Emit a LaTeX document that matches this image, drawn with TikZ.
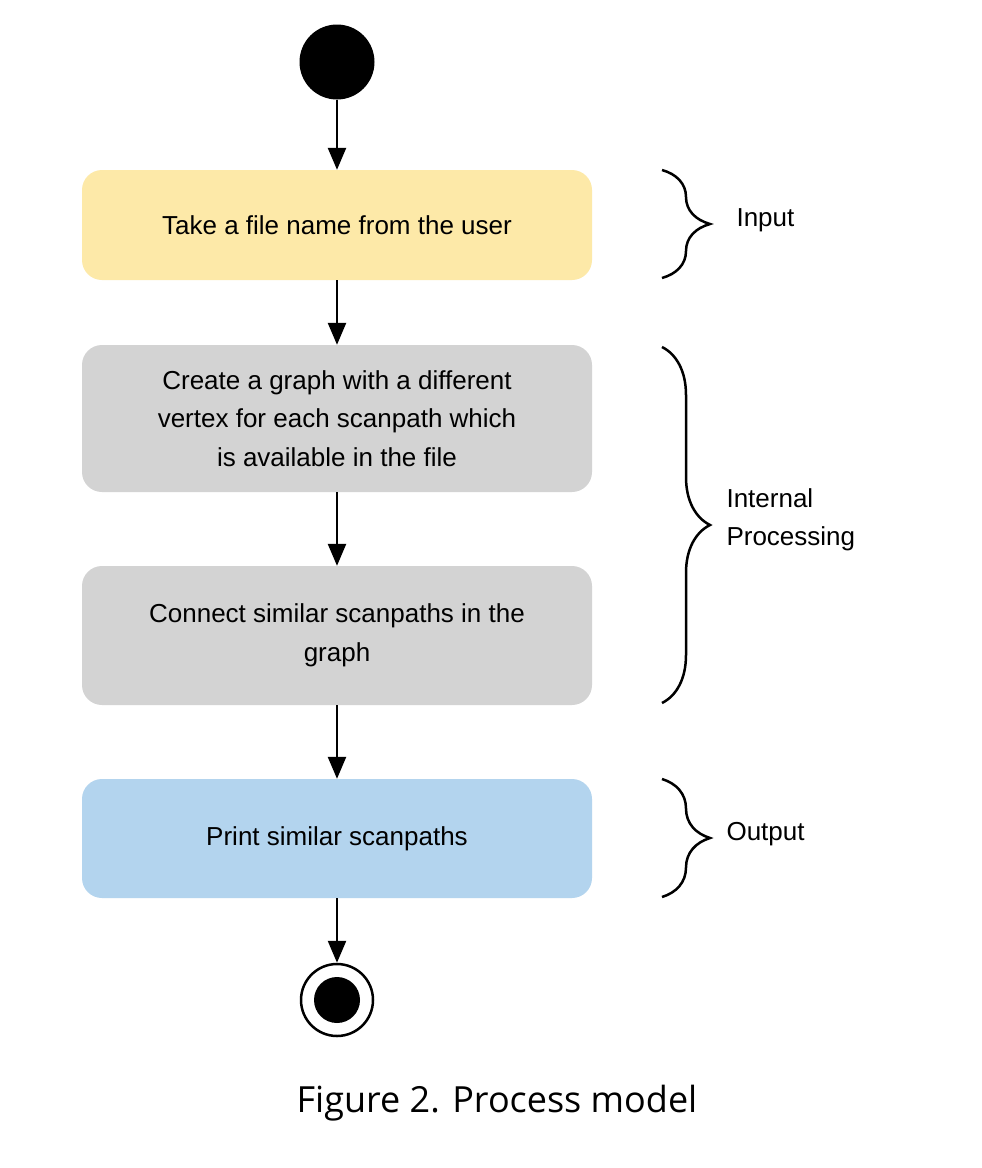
\documentclass[tikz,border=0pt]{standalone}
\usepackage{fontspec}
\setmainfont{Liberation Sans}
\newfontfamily\capfont{Open Sans}
\usetikzlibrary{arrows.meta,decorations.pathreplacing}
\begin{document}
\begin{tikzpicture}[x=1pt,y=-1pt,
  box/.style={rounded corners=20pt,minimum width=510pt,align=center,font=\fontsize{26}{38.5}\selectfont,inner sep=0pt},
  arr/.style={line width=2.5pt,-{Triangle[length=22pt,width=18pt]}},
  br/.style={line width=2.5pt,decorate,decoration={brace,amplitude=48pt,aspect=0.5}},
  lab/.style={anchor=west,align=left,font=\fontsize{26}{38.5}\selectfont}]
\useasboundingbox (0,0) rectangle (982,1168);
\fill[white] (0,0) rectangle (982,1168);
\node[circle,fill=black,minimum size=75pt,inner sep=0pt] (s) at (337,62) {};
\node[box,fill={rgb,255:red,253;green,233;blue,168},minimum height=110pt] (b1) at (337,225) {Take a file name from the user};
\node[box,fill={rgb,255:red,211;green,211;blue,211},minimum height=147pt] (b2) at (337,418.5) {Create a graph with a different\\vertex for each scanpath which\\is available in the file};
\node[box,fill={rgb,255:red,211;green,211;blue,211},minimum height=139pt] (b3) at (337,635.5) {Connect similar scanpaths in the\\graph};
\node[box,fill={rgb,255:red,179;green,212;blue,238},minimum height=119pt] (b4) at (337,838.5) {Print similar scanpaths};
\node[circle,draw=black,line width=2.5pt,minimum size=72pt,inner sep=0pt] (e) at (337,1000) {};
\node[circle,fill=black,minimum size=46pt,inner sep=0pt] (ei) at (337,1000) {};
\draw[arr] (s) -- (b1);
\draw[arr] (b1) -- (b2);
\draw[arr] (b2) -- (b3);
\draw[arr] (b3) -- (b4);
\draw[arr] (b4) -- (e);
\coordinate (i1) at (662,170); \coordinate (i2) at (662,278);
\coordinate (p1) at (662,347); \coordinate (p2) at (662,703);
\coordinate (o1) at (662,779); \coordinate (o2) at (662,897);
\draw[br] (i1) -- (i2);
\draw[br] (p1) -- (p2);
\draw[br] (o1) -- (o2);
\node[lab] (li) at (733,220) {Input};
\node[lab] (lp) at (723,520) {Internal\\Processing};
\node[lab] (lo) at (723,834) {Output};
\node[font=\capfont\fontsize{36}{40}\selectfont] (cap) at (497,1103) {Figure 2. Process model};
\end{tikzpicture}
\end{document}
